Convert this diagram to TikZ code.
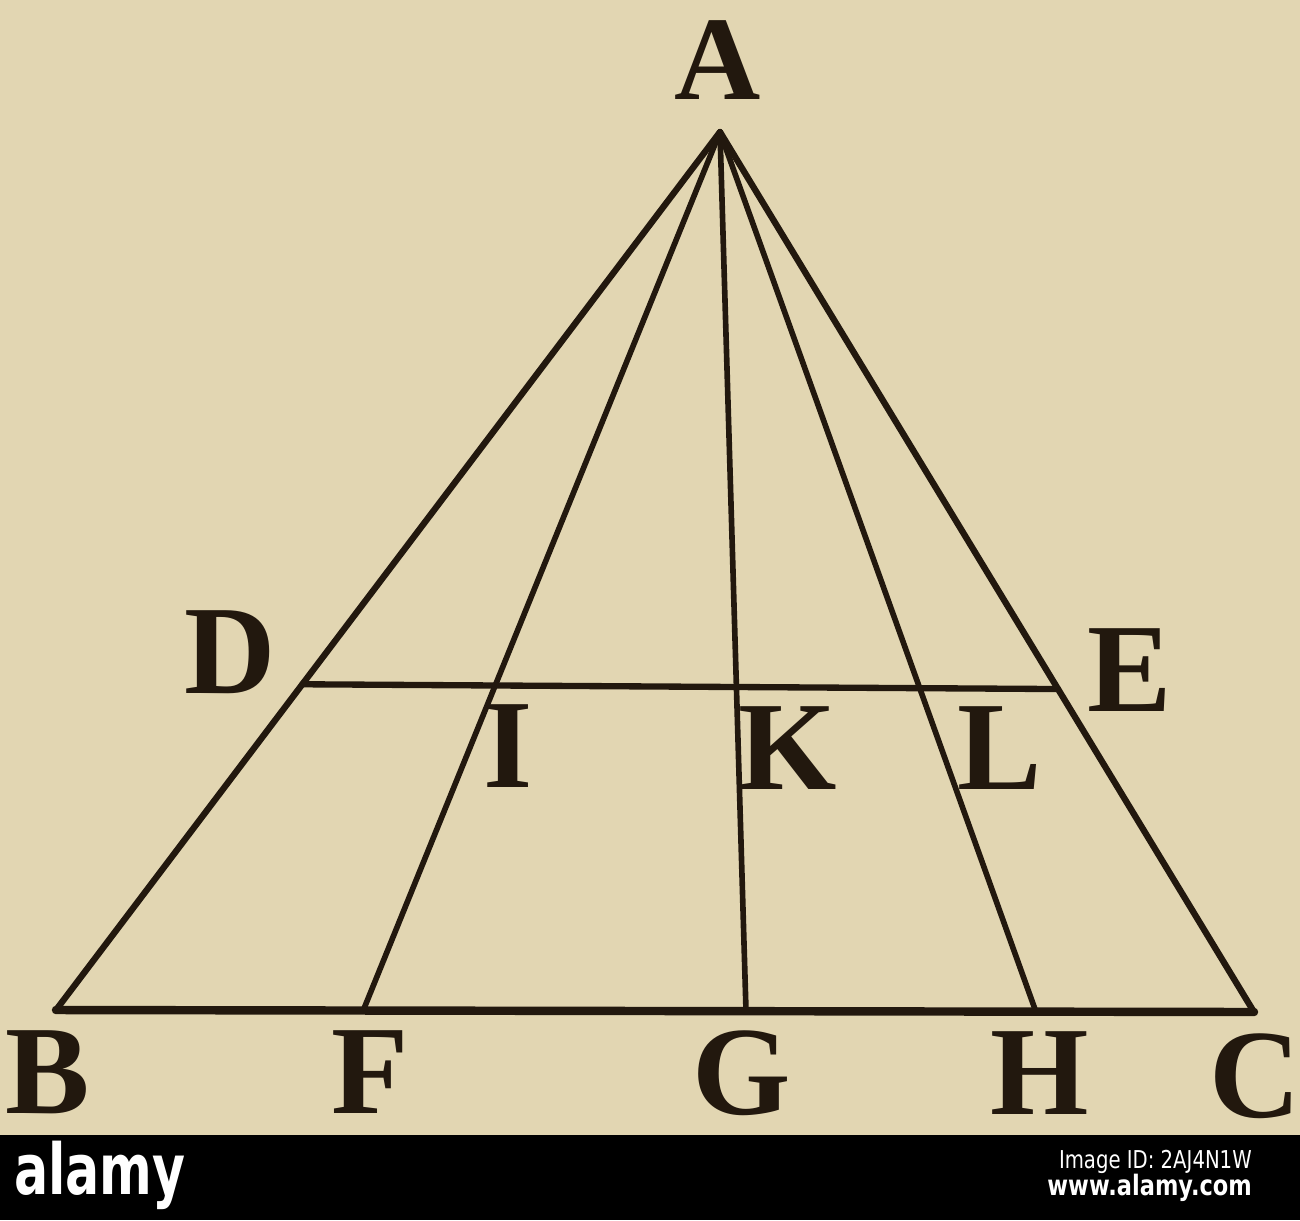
\documentclass[tikz,border=0pt]{standalone}
\usepackage{fontspec}
\setmainfont{Liberation Serif}
\newfontfamily\stripfont{DejaVu Sans}
\usetikzlibrary{calc}
\definecolor{paper}{RGB}{226,214,178}
\definecolor{ink}{RGB}{34,24,14}
\tikzset{
  edge/.style={draw=ink, line width=3.6pt, line cap=round},
  lbl/.style={text=ink, inner sep=0pt, font=\fontsize{72}{72}\selectfont\bfseries},
  pt/.style={inner sep=0pt, minimum size=0pt}
}
\begin{document}
\begin{tikzpicture}[x=0.02cm,y=-0.02cm]
\fill[paper] (0,0) rectangle (1300,1220);
\useasboundingbox (0,0) rectangle (1300,1220);
% vertices
\coordinate (A) at (720,132);
\coordinate (B) at (56,1010);
\coordinate (C) at (1254,1012);
\coordinate (F) at (363,1011);
\coordinate (G) at (746,1011);
\coordinate (H) at (1036,1012);
\coordinate (D) at ($(A)!0.629!(B)$);
\coordinate (E) at ($(A)!0.633!(C)$);
% lines
\draw[edge] (A) -- (B);
\draw[edge] (A) -- (C);
\draw[edge, line width=4.8pt] (B) -- (C);
\draw[edge, line width=3.2pt] (A) -- (F);
\draw[edge, line width=3.2pt] (A) -- (G);
\draw[edge, line width=3.2pt] (A) -- (H);
\draw[edge, line width=3.6pt] (D) -- (E);
% labels
\node[lbl, font=\fontsize{68}{68}\selectfont\bfseries] (lA) at (718,60) {A};
\node[lbl] (lD) at (230,652) {D};
\node[lbl] (lE) at (1130,670) {E};
\node[lbl] (lI) at (508,746) {I};
\node[lbl] (lK) at (788,748) {K};
\node[lbl] (lL) at (1000,748) {L};
\node[lbl] (lB) at (48,1072) {B};
\node[lbl] (lF) at (370,1072) {F};
\node[lbl] (lG) at (742,1073) {G};
\node[lbl] (lH) at (1040,1073) {H};
\node[lbl] (lC) at (1255,1076) {C};
% bottom strip
\fill[black] (0,1135) rectangle (1300,1220);
\node[text=white, inner sep=0pt, font=\stripfont\fontsize{40}{40}\selectfont\bfseries, xscale=0.72] (logo) at (100,1175) {alamy};
\node[text=white, inner sep=0pt, anchor=east, font=\stripfont\fontsize{14}{14}\selectfont, xscale=0.8] (imgid) at (1252,1162) {Image ID: 2AJ4N1W};
\node[text=white, inner sep=0pt, anchor=east, font=\stripfont\fontsize{16}{16}\selectfont\bfseries, xscale=0.8] (www) at (1252,1188) {www.alamy.com};
\end{tikzpicture}
\end{document}
